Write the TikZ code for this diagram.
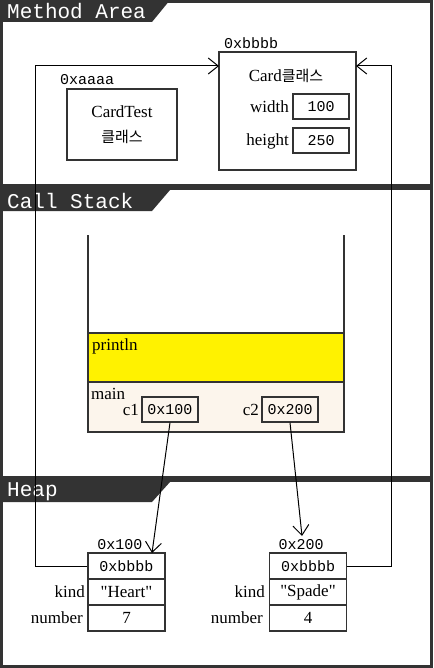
\documentclass[tikz,border=0pt]{standalone}
\usepackage{fontspec}
\setmainfont{Liberation Serif}[Ligatures=TeXOff]
\setmonofont{Liberation Mono}
\newfontfamily\kr{Noto Sans CJK KR}
\usetikzlibrary{arrows.meta}

\definecolor{bardark}{HTML}{333333}
\definecolor{mainbg}{HTML}{FCF5EC}
\newcommand{\lblf}{\fontsize{17}{20}\selectfont}
\newcommand{\hexf}{\fontsize{15}{17}\selectfont\ttfamily}
\newcommand{\ttlf}{\fontsize{21}{23}\selectfont\ttfamily}

\tikzset{
  cell/.style={draw=bardark, line width=1.2pt, minimum width=77pt, minimum height=26pt, inner sep=0pt},
  valbox/.style={draw=bardark, line width=1.2pt, minimum width=56pt, minimum height=25pt, inner sep=0pt, font=\hexf},
  lbl/.style={inner sep=0pt, font=\lblf},
  hexlbl/.style={inner sep=0pt, font=\hexf},
  ttl/.style={anchor=west, inner sep=0pt, text=white, font=\ttlf},
  ptr/.style={line width=1pt, -{Straight Barb[length=10pt,width=16pt]}},
}

\begin{document}
\begin{tikzpicture}[x=1pt,y=-1pt]
\useasboundingbox (0,0) rectangle (433,668);
\fill[white] (0,0) rectangle (433,668);

%   marco y secciones
\draw[bardark, line width=3pt] (1.5,1.5) rectangle (431.5,666.5);
\fill[bardark] (0,184) rectangle (433,190);
\fill[bardark] (0,476) rectangle (433,482);
\fill[bardark] (0,0) -- (170,0) -- (152,22) -- (0,22) -- cycle;
\fill[bardark] (0,190) -- (170,190) -- (152,211) -- (0,211) -- cycle;
\fill[bardark] (0,482) -- (170,482) -- (152,502) -- (0,502) -- cycle;
\node[ttl] (tmethod) at (7,11) {Method Area};
\node[ttl] (tstack) at (7,200.5) {Call Stack};
\node[ttl] (theap) at (7,492) {Heap};

%   Method Area
\node[draw=bardark, line width=1.2pt, minimum width=110pt, minimum height=71pt] (cardtest) at (122,124.5) {};
\node[lbl] (cardtestA) at (122,112) {CardTest};
\node[lbl] (cardtestB) at (122,137) {\kr\fontsize{15}{17}\selectfont 클래스};
\node[hexlbl, anchor=west] (addra) at (60,80) {0xaaaa};

\node[draw=bardark, line width=1.2pt, minimum width=137pt, minimum height=118pt] (card) at (287.5,111) {};
\node[hexlbl, anchor=west] (addrb) at (224,43) {0xbbbb};
\node[lbl] (cardname) at (286,76) {Card{\kr\fontsize{15}{17}\selectfont 클래스}};
\node[valbox] (width) at (321,106.5) {100};
\node[valbox] (height) at (321,140.5) {250};
\node[lbl, anchor=east] (widthl) at (289,107) {width};
\node[lbl, anchor=east] (heightl) at (289,141) {height};

%   Call Stack
\filldraw[fill=yellow, draw=bardark, line width=1.2pt] (88,333) rectangle (344,382);
\filldraw[fill=mainbg, draw=bardark, line width=1.2pt] (88,382) rectangle (344,432);
\draw[bardark, line width=1.2pt] (88,235) -- (88,432) -- (344,432) -- (344,235);
\node[lbl, anchor=west] (println) at (92,346) {println};
\node[lbl, anchor=west] (mainl) at (91,394) {main};
\node[valbox] (c1) at (170,409.5) {0x100};
\node[valbox] (c2) at (290,409.5) {0x200};
\node[lbl, anchor=east] (c1l) at (139,410) {c1};
\node[lbl, anchor=east] (c2l) at (259,410) {c2};

%   Heap
\node[cell, font=\hexf] (h1a) at (126.5,566) {0xbbbb};
\node[cell, font=\lblf] (h1b) at (126.5,592) {"Heart"};
\node[cell, font=\lblf] (h1c) at (126.5,618) {7};
\node[hexlbl] (addr1) at (120,545) {0x100};
\node[lbl, anchor=east] (kind1) at (85,592) {kind};
\node[lbl, anchor=east] (num1) at (83,618) {number};

\node[cell, font=\hexf] (h2a) at (308,566) {0xbbbb};
\node[cell, font=\lblf] (h2b) at (308,592) {"Spade"};
\node[cell, font=\lblf] (h2c) at (308,618) {4};
\node[hexlbl] (addr2) at (301,545) {0x200};
\node[lbl, anchor=east] (kind2) at (265,592) {kind};
\node[lbl, anchor=east] (num2) at (263,618) {number};

%   flechas
\coordinate (cardinL) at (219,66);
\coordinate (cardinR) at (356,66);
\coordinate (h1in) at (152,553);
\coordinate (h2in) at (302,536);
\draw[ptr] (c1.south) -- (h1in);
\draw[ptr] (c2.south) -- (h2in);
\draw[ptr] (h1a.west) -- ++(-52,0) |- (cardinL);
\draw[ptr] (h2a.east) -- ++(44,0) |- (cardinR);
\end{tikzpicture}
\end{document}
